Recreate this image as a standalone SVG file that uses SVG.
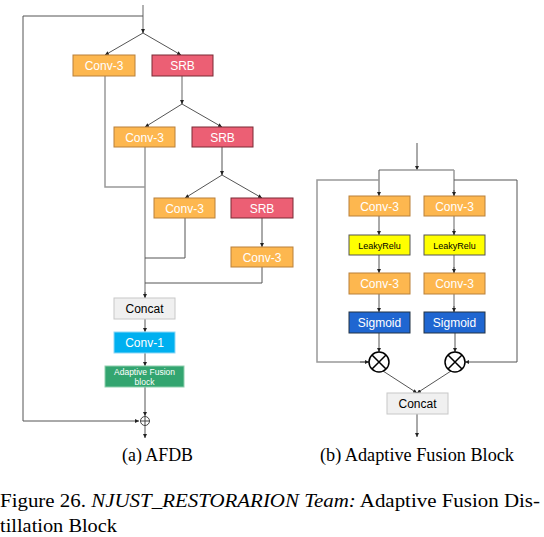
<svg xmlns="http://www.w3.org/2000/svg" width="544" height="537" viewBox="0 0 544 537">
<defs>
<marker id="ah" viewBox="0 0 6 6" refX="6" refY="3" markerWidth="4" markerHeight="4" orient="auto" markerUnits="userSpaceOnUse"><path d="M0,0 L6,3 L0,6 z" fill="#222"/></marker>
<style>
.box{stroke-width:1}
.conv3{fill:#fdb74f;stroke:#b9803a}
.srb{fill:#ec5f74;stroke:#7a2a35}
.concat{fill:#f0f0f0;stroke:#c8c8c8}
.conv1{fill:#00b0f0;stroke:#8fd8f5}
.afb{fill:#33a570;stroke:#8fcfae}
.leaky{fill:#ffff00;stroke:#555}
.sig{fill:#1f66d1;stroke:#234}
.t{font-family:"Liberation Sans",Arial,sans-serif;text-anchor:middle;fill:#fff}
.tb{fill:#000}
.ln{fill:none;stroke:#555;stroke-width:1}
.lg{fill:none;stroke:#999;stroke-width:1.5}
.cap{font-family:"Liberation Serif","Times New Roman",serif;font-size:18px;fill:#000}
</style>
</defs>

<g id="connectors">
  <!-- left diagram -->
  <path class="lg" d="M143,5 V33"/>
  <path class="ln" d="M143,16 H23 V421 H139" marker-end="url(#ah)"/>
  <path class="ln" d="M143,30 V33" marker-end="url(#ah)"/>
  <path class="ln" d="M143,33 L105,55" marker-end="url(#ah)"/>
  <path class="ln" d="M143,33 L181,55" marker-end="url(#ah)"/>
  <path class="lg" d="M182,76 V104"/>
  <path class="ln" d="M182,101 V104" marker-end="url(#ah)"/>
  <path class="ln" d="M182,104 L145,127" marker-end="url(#ah)"/>
  <path class="ln" d="M182,104 L222,127" marker-end="url(#ah)"/>
  <path class="lg" d="M105,76 V187 H145"/>
  <path class="lg" d="M145,147 V298"/>
  <path class="ln" d="M145,292 V298" marker-end="url(#ah)"/>
  <path class="ln" d="M222,147 V175"/>
  <path class="ln" d="M222,172 V175" marker-end="url(#ah)"/>
  <path class="ln" d="M222,175 L185,198" marker-end="url(#ah)"/>
  <path class="ln" d="M222,175 L262,198" marker-end="url(#ah)"/>
  <path class="ln" d="M185,218 V258 H145"/>
  <path class="ln" d="M262,218 V247" marker-end="url(#ah)"/>
  <path class="ln" d="M262,267 V283 H145"/>
  <path class="ln" d="M145,319 V332" marker-end="url(#ah)"/>
  <path class="ln" d="M145,353 V366" marker-end="url(#ah)"/>
  <path class="ln" d="M145,387 V416" marker-end="url(#ah)"/>
  <path class="ln" d="M145,425 V438" marker-end="url(#ah)"/>

  <!-- right diagram -->
  <path class="ln" d="M417,143 V170" marker-end="url(#ah)"/>
  <path class="lg" d="M379,170 H454"/>
  <path class="ln" d="M379,170 V196" marker-end="url(#ah)"/>
  <path class="lg" d="M454,170 V196"/>
  <path class="ln" d="M454,190 V196" marker-end="url(#ah)"/>
  <path class="lg" d="M379,180 H317 V362 H369"/>
  <path class="ln" d="M360,362 H369" marker-end="url(#ah)"/>
  <path class="ln" d="M454,180 H517 V362 H465" marker-end="url(#ah)"/>
  <path class="ln" d="M379,216 V235" marker-end="url(#ah)"/>
  <path class="lg" d="M454,216 V235"/>
  <path class="ln" d="M454,229 V235" marker-end="url(#ah)"/>
  <path class="ln" d="M379,255 V273" marker-end="url(#ah)"/>
  <path class="lg" d="M454,255 V273"/>
  <path class="ln" d="M454,267 V273" marker-end="url(#ah)"/>
  <path class="ln" d="M379,294 V312" marker-end="url(#ah)"/>
  <path class="lg" d="M454,294 V312"/>
  <path class="ln" d="M454,306 V312" marker-end="url(#ah)"/>
  <path class="ln" d="M379,333 V352" marker-end="url(#ah)"/>
  <path class="ln" d="M455,333 V352" marker-end="url(#ah)"/>
  <path class="ln" d="M383,371 L417,393" marker-end="url(#ah)"/>
  <path class="ln" d="M451,371 L417,393" marker-end="url(#ah)"/>
  <path class="ln" d="M417,414 V437" marker-end="url(#ah)"/>
</g>

<!-- left nodes -->
<g id="conv3-a"><rect class="box conv3" x="73" y="55" width="62" height="21"/><text class="t" x="104" y="70" font-size="12">Conv-3</text></g>
<g id="srb-a"><rect class="box srb" x="152" y="55" width="61" height="21"/><text class="t" x="182.500" y="70" font-size="12">SRB</text></g>
<g id="conv3-b"><rect class="box conv3" x="114" y="127" width="61" height="20"/><text class="t" x="144.500" y="141.500" font-size="12">Conv-3</text></g>
<g id="srb-b"><rect class="box srb" x="192" y="127" width="61" height="20"/><text class="t" x="222.500" y="141.500" font-size="12">SRB</text></g>
<g id="conv3-c"><rect class="box conv3" x="154" y="198" width="61" height="20"/><text class="t" x="184.500" y="212.500" font-size="12">Conv-3</text></g>
<g id="srb-c"><rect class="box srb" x="231" y="198" width="62" height="20"/><text class="t" x="262" y="212.500" font-size="12">SRB</text></g>
<g id="conv3-d"><rect class="box conv3" x="231" y="247" width="62" height="20"/><text class="t" x="262" y="261.500" font-size="12">Conv-3</text></g>
<g id="concat-a"><rect class="box concat" x="114" y="298" width="61" height="21"/><text class="t tb" x="144.500" y="313" font-size="12">Concat</text></g>
<g id="conv1"><rect class="box conv1" x="114" y="332" width="61" height="21"/><text class="t" x="144.500" y="347" font-size="12">Conv-1</text></g>
<g id="afb"><rect class="box afb" x="105" y="366" width="79" height="21"/><text class="t" x="144.500" y="375" font-size="8.500">Adaptive Fusion</text><text class="t" x="144.500" y="385" font-size="8.500">block</text></g>
<g id="add"><circle cx="145" cy="421" r="4.500" fill="#fff" stroke="#444" stroke-width="1"/><path d="M140.500,421 H149.500 M145,416.500 V425.500" stroke="#444" stroke-width="1"/></g>
<text class="cap" x="157.500" y="461" text-anchor="middle" textLength="71" lengthAdjust="spacingAndGlyphs">(a) AFDB</text>

<!-- right nodes -->
<g id="conv3-l1"><rect class="box conv3" x="349" y="196" width="61" height="20"/><text class="t" x="379.500" y="210.500" font-size="12">Conv-3</text></g>
<g id="conv3-r1"><rect class="box conv3" x="424" y="196" width="61" height="20"/><text class="t" x="454.500" y="210.500" font-size="12">Conv-3</text></g>
<g id="leaky-l"><rect class="box leaky" x="349" y="235" width="61" height="20"/><text class="t tb" x="379.500" y="248.500" font-size="9">LeakyRelu</text></g>
<g id="leaky-r"><rect class="box leaky" x="424" y="235" width="61" height="20"/><text class="t tb" x="454.500" y="248.500" font-size="9">LeakyRelu</text></g>
<g id="conv3-l2"><rect class="box conv3" x="349" y="273" width="61" height="21"/><text class="t" x="379.500" y="288" font-size="12">Conv-3</text></g>
<g id="conv3-r2"><rect class="box conv3" x="424" y="273" width="61" height="21"/><text class="t" x="454.500" y="288" font-size="12">Conv-3</text></g>
<g id="sig-l"><rect class="box sig" x="349" y="312" width="61" height="21"/><text class="t" x="379.500" y="327" font-size="12">Sigmoid</text></g>
<g id="sig-r"><rect class="box sig" x="424" y="312" width="61" height="21"/><text class="t" x="454.500" y="327" font-size="12">Sigmoid</text></g>
<g id="mul-l"><circle cx="379" cy="362" r="10" fill="#fff" stroke="#000" stroke-width="1.5"/><path d="M372,355 L386,369 M386,355 L372,369" stroke="#000" stroke-width="1.5"/></g>
<g id="mul-r"><circle cx="455" cy="362" r="10" fill="#fff" stroke="#000" stroke-width="1.5"/><path d="M448,355 L462,369 M462,355 L448,369" stroke="#000" stroke-width="1.5"/></g>
<g id="concat-b"><rect class="box concat" x="387" y="393" width="61" height="21"/><text class="t tb" x="417.500" y="408" font-size="12">Concat</text></g>
<text class="cap" x="417" y="461" text-anchor="middle" textLength="194" lengthAdjust="spacingAndGlyphs">(b) Adaptive Fusion Block</text>

<!-- figure caption -->
<text class="cap" x="0" y="507" font-size="21" textLength="540" lengthAdjust="spacingAndGlyphs">Figure 26.  <tspan font-style="italic">NJUST_RESTORARION Team:</tspan>  Adaptive Fusion Dis-</text>
<text class="cap" x="0" y="532" font-size="21" textLength="117" lengthAdjust="spacingAndGlyphs">tillation Block</text>
</svg>
